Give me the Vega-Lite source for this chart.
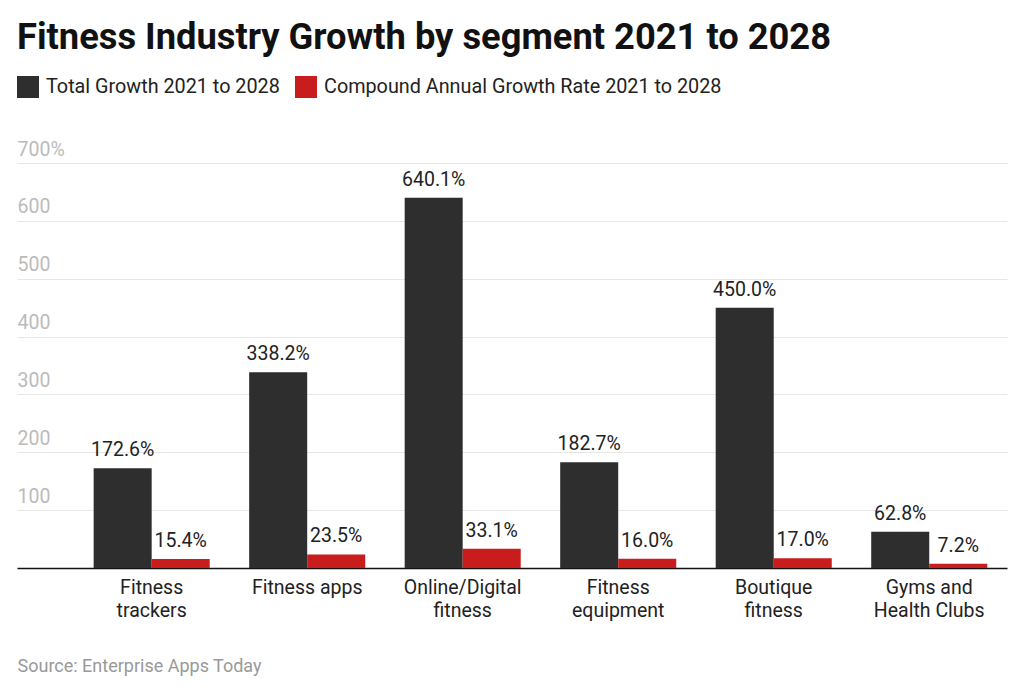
{
  "$schema": "https://vega.github.io/schema/vega-lite/v6.json",
  "autosize": {"type": "none"},
  "width": 990,
  "height": 405,
  "padding": {"left": 17, "top": 163, "right": 17, "bottom": 126},
  "background": "white",
  "config": {
    "font": "Roboto",
    "view": {"stroke": null}
  },
  "title": {
    "text": "Fitness Industry Growth by segment 2021 to 2028",
    "anchor": "start",
    "frame": "group",
    "font": "Roboto",
    "fontSize": 36.3,
    "fontWeight": "bold",
    "color": "#111111",
    "baseline": "alphabetic",
    "offset": -9
  },
  "data": {
    "values": [
      {"segment": "Fitness trackers", "measure": "Total Growth 2021 to 2028", "value": 172.6},
      {"segment": "Fitness trackers", "measure": "Compound Annual Growth Rate 2021 to 2028", "value": 15.4},
      {"segment": "Fitness apps", "measure": "Total Growth 2021 to 2028", "value": 338.2},
      {"segment": "Fitness apps", "measure": "Compound Annual Growth Rate 2021 to 2028", "value": 23.5},
      {"segment": "Online/Digital fitness", "measure": "Total Growth 2021 to 2028", "value": 640.1},
      {"segment": "Online/Digital fitness", "measure": "Compound Annual Growth Rate 2021 to 2028", "value": 33.1},
      {"segment": "Fitness equipment", "measure": "Total Growth 2021 to 2028", "value": 182.7},
      {"segment": "Fitness equipment", "measure": "Compound Annual Growth Rate 2021 to 2028", "value": 16.0},
      {"segment": "Boutique fitness", "measure": "Total Growth 2021 to 2028", "value": 450.0},
      {"segment": "Boutique fitness", "measure": "Compound Annual Growth Rate 2021 to 2028", "value": 17.0},
      {"segment": "Gyms and Health Clubs", "measure": "Total Growth 2021 to 2028", "value": 62.8},
      {"segment": "Gyms and Health Clubs", "measure": "Compound Annual Growth Rate 2021 to 2028", "value": 7.2}
    ]
  },
  "transform": [
    {"calculate": "format(datum.value, '.1f') + '%'", "as": "label"}
  ],
  "encoding": {
    "x": {
      "field": "segment",
      "type": "nominal",
      "sort": null,
      "scale": {"paddingInner": 0, "paddingOuter": 0.183, "align": 1},
      "axis": {
        "title": "Source: Enterprise Apps Today",
        "titleAnchor": "start",
        "titleAlign": "left",
        "titleFont": "Roboto",
        "titleFontWeight": "normal",
        "titleFontSize": 18,
        "titleColor": "#999999",
        "titlePadding": 38,
        "labelAngle": 0,
        "labelFont": "Roboto",
        "labelFontSize": 19.5,
        "labelColor": "#222222",
        "labelPadding": 10,
        "labelLineHeight": 23,
        "labelExpr": "datum.label == 'Fitness apps' ? datum.label : datum.label == 'Gyms and Health Clubs' ? ['Gyms and', 'Health Clubs'] : split(datum.label, ' ')",
        "ticks": false,
        "domain": true,
        "domainColor": "#111111",
        "domainWidth": 1.5,
        "grid": false
      }
    },
    "xOffset": {
      "field": "measure",
      "type": "nominal",
      "sort": ["Total Growth 2021 to 2028", "Compound Annual Growth Rate 2021 to 2028"],
      "scale": {"paddingInner": 0, "paddingOuter": 0.34}
    },
    "y": {
      "field": "value",
      "type": "quantitative",
      "scale": {"domain": [0, 700], "nice": false},
      "axis": {
        "title": null,
        "values": [100, 200, 300, 400, 500, 600, 700],
        "labelExpr": "datum.value == 700 ? '700%' : datum.label",
        "labelAlign": "left",
        "labelBaseline": "bottom",
        "labelPadding": 0,
        "labelOffset": -4,
        "labelFont": "Roboto",
        "labelFontSize": 19.5,
        "labelColor": "#bbbbbb",
        "ticks": false,
        "domain": false,
        "grid": true,
        "gridColor": "#e6e6e6",
        "gridWidth": 1
      }
    }
  },
  "layer": [
    {
      "mark": {"type": "bar"},
      "encoding": {
        "color": {
          "field": "measure",
          "type": "nominal",
          "sort": ["Total Growth 2021 to 2028", "Compound Annual Growth Rate 2021 to 2028"],
          "scale": {
            "domain": ["Total Growth 2021 to 2028", "Compound Annual Growth Rate 2021 to 2028"],
            "range": ["#2e2e2e", "#c91d1d"]
          },
          "legend": {
            "title": null,
            "orient": "none",
            "legendX": 0,
            "legendY": -87,
            "direction": "horizontal",
            "symbolType": "square",
            "symbolSize": 484,
            "symbolStrokeWidth": 0,
            "symbolOpacity": 1,
            "labelFont": "Roboto",
            "labelFontSize": 19.8,
            "labelColor": "#222222",
            "labelLimit": 500,
            "labelOffset": 7,
            "columnPadding": 15
          }
        }
      }
    },
    {
      "mark": {"type": "text", "baseline": "bottom", "dy": -8, "font": "Roboto", "fontSize": 19.5, "color": "#222222"},
      "encoding": {
        "text": {"field": "label"}
      }
    }
  ]
}
